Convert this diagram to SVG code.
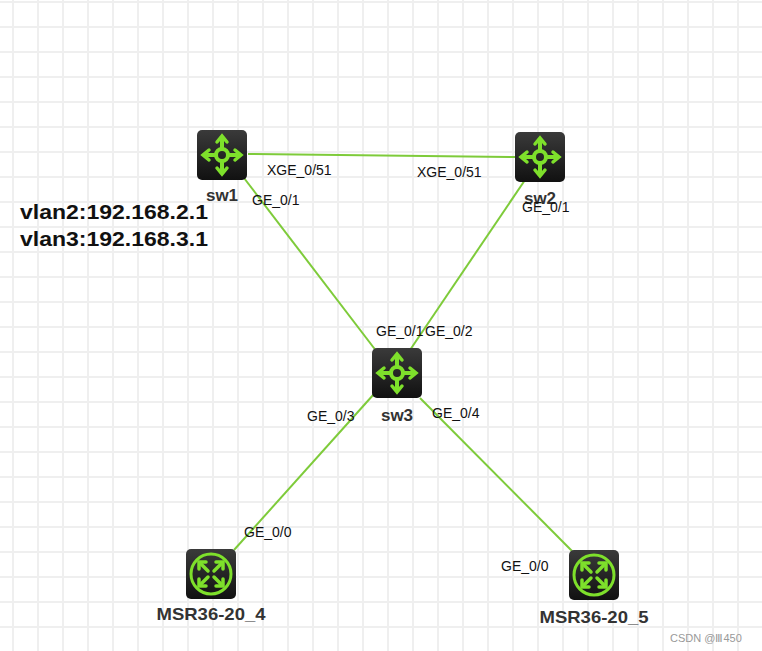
<svg xmlns="http://www.w3.org/2000/svg" width="762" height="651" viewBox="0 0 762 651">
<defs>
<pattern id="grid" width="25" height="25" patternUnits="userSpaceOnUse" x="12" y="1">
<path d="M1 0V25M0 1H25" stroke="#efefef" stroke-width="2" fill="none"/>
</pattern>
<linearGradient id="bg" x1="0" y1="0" x2="0" y2="1"><stop offset="0" stop-color="#3a3a3a"/><stop offset="1" stop-color="#111"/></linearGradient>
<g id="swicon">
<rect x="-25" y="-25" width="50" height="50" rx="5" fill="url(#bg)"/>
<g stroke="#7ee02b" stroke-width="4" fill="none" stroke-linecap="round">
<circle r="6"/>
<path d="M0-6V-17M0 6V17M-6 0H-17M6 0H17"/>
<path d="M-5-13L0-19L5-13M-5 13L0 19L5 13M-13-5L-19 0L-13 5M13-5L19 0L13 5" stroke-width="3.5"/>
</g>
</g>
<g id="rticon">
<rect x="-25" y="-25" width="50" height="50" rx="5" fill="url(#bg)"/>
<circle r="20" stroke="#7ee02b" stroke-width="3" fill="none"/>
<g stroke="#7ee02b" stroke-width="3.5" fill="none" stroke-linecap="round">
<path d="M-11-11L-3-3M11-11L3-3M-11 11L-3 3M11 11L3 3"/>
<path d="M-12-5V-12H-5M12-5V-12H5M-12 5V12H-5M12 5V12H5"/>
</g>
</g>
</defs>
<style>
.lbl{font-family:"Liberation Sans",Arial,sans-serif;font-size:14px;fill:#111}
.nm{font-family:"Liberation Sans",Arial,sans-serif;font-size:17px;font-weight:bold;fill:#333;text-anchor:middle}
.big{font-family:"Liberation Sans",Arial,sans-serif;font-size:21px;font-weight:bold;fill:#111}
.ln{stroke:#7ecb3a;stroke-width:2;fill:none}
</style>
<rect width="762" height="651" fill="#fff"/>
<rect width="762" height="651" fill="url(#grid)"/>
<g id="connectors">
<line class="ln" x1="248" y1="154" x2="515" y2="157"/>
<line class="ln" x1="244" y1="178" x2="377" y2="352"/>
<line class="ln" x1="525" y1="180" x2="410" y2="350"/>
<line class="ln" x1="374" y1="394" x2="234" y2="550"/>
<line class="ln" x1="420" y1="398" x2="572" y2="551"/>
</g>
<g id="sw1"><use href="#swicon" x="222" y="155"/><text class="nm" x="222" y="201">sw1</text></g>
<g id="sw2"><use href="#swicon" x="540" y="157"/><text class="nm" x="540" y="204">sw2</text></g>
<g id="sw3"><use href="#swicon" x="397" y="373"/><text class="nm" x="397" y="421">sw3</text></g>
<g id="msr4"><use href="#rticon" x="211" y="574"/><text class="nm" x="211" y="620" textLength="109" lengthAdjust="spacingAndGlyphs">MSR36-20_4</text></g>
<g id="msr5"><use href="#rticon" x="594" y="575"/><text class="nm" x="594" y="623" textLength="109" lengthAdjust="spacingAndGlyphs">MSR36-20_5</text></g>
<g id="labels">
<text class="lbl" x="267" y="175">XGE_0/51</text>
<text class="lbl" x="417" y="177">XGE_0/51</text>
<text class="lbl" x="252" y="205">GE_0/1</text>
<text class="lbl" x="522" y="212">GE_0/1</text>
<text class="lbl" x="376" y="336">GE_0/1</text>
<text class="lbl" x="425" y="336">GE_0/2</text>
<text class="lbl" x="307" y="421">GE_0/3</text>
<text class="lbl" x="432" y="418">GE_0/4</text>
<text class="lbl" x="244" y="537">GE_0/0</text>
<text class="lbl" x="501" y="571">GE_0/0</text>
<text class="big" x="20" y="219" textLength="188" lengthAdjust="spacingAndGlyphs">vlan2:192.168.2.1</text>
<text class="big" x="20" y="246" textLength="188" lengthAdjust="spacingAndGlyphs">vlan3:192.168.3.1</text>
<text x="670" y="642" style="font-family:'Liberation Sans',sans-serif;font-size:11px;fill:#999">CSDN @Ⅲ450</text>
</g>
</svg>
